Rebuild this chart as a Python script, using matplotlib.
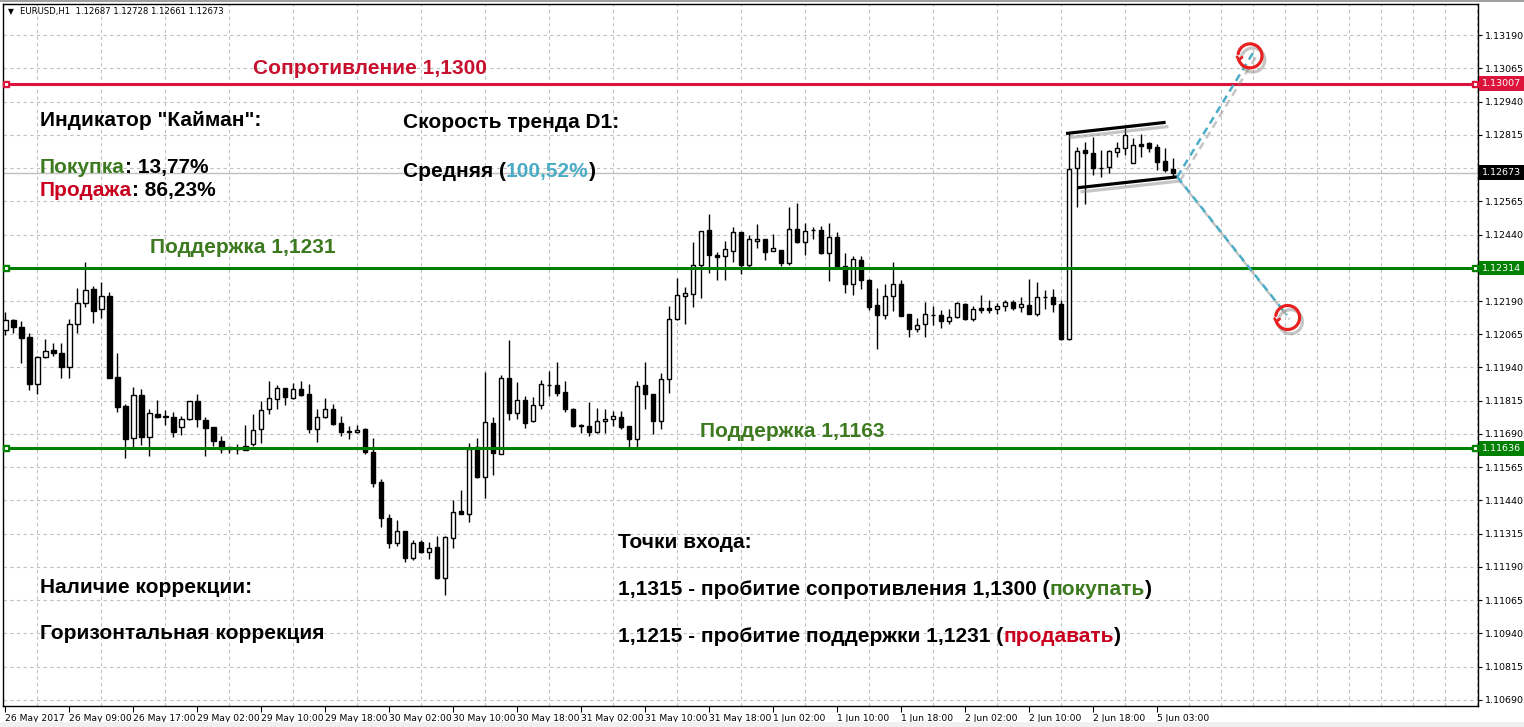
import numpy as np
import matplotlib
matplotlib.use('Agg')
import matplotlib.pyplot as plt
from matplotlib import patheffects as pe

plt.rcParams['font.family'] = ['Liberation Sans', 'DejaVu Sans']

############################# CHART DATA (EURUSD H1) ##############################
opens = [1.12081, 1.12119, 1.12091, 1.12054, 1.11877, 1.11981, 1.12006, 1.11994, 1.11941, 1.12103,
         1.12182, 1.12234, 1.12159, 1.12209, 1.11903, 1.11794, 1.11674, 1.11837, 1.11680, 1.11766,
         1.11759, 1.11753, 1.11715, 1.11746, 1.11815, 1.11743, 1.11715, 1.11664, 1.11640, 1.11633,
         1.11630, 1.11652, 1.11708, 1.11785, 1.11822, 1.11863, 1.11826, 1.11861, 1.11841, 1.11708,
         1.11753, 1.11785, 1.11730, 1.11702, 1.11697, 1.11708, 1.11624, 1.11509, 1.11373, 1.11279,
         1.11325, 1.11223, 1.11283, 1.11245, 1.11264, 1.11150, 1.11298, 1.11401, 1.11388, 1.11640,
         1.11530, 1.11730, 1.11614, 1.11899, 1.11768, 1.11817, 1.11737, 1.11798, 1.11873, 1.11874,
         1.11848, 1.11783, 1.11724, 1.11719, 1.11699, 1.11739, 1.11747, 1.11754, 1.11720, 1.11670,
         1.11874, 1.11842, 1.11740, 1.11896, 1.12121, 1.12209, 1.12216, 1.12327, 1.12457, 1.12362,
         1.12361, 1.12379, 1.12448, 1.12327, 1.12414, 1.12422, 1.12377, 1.12382, 1.12334, 1.12460,
         1.12411, 1.12457, 1.12457, 1.12369, 1.12430, 1.12322, 1.12253, 1.12344, 1.12269, 1.12174,
         1.12138, 1.12210, 1.12253, 1.12140, 1.12086, 1.12103, 1.12136, 1.12136, 1.12116, 1.12129,
         1.12179, 1.12121, 1.12163, 1.12163, 1.12161, 1.12173, 1.12185, 1.12166, 1.12174, 1.12143,
         1.12204, 1.12204, 1.12179, 1.12046, 1.12689, 1.12758, 1.12746, 1.12689, 1.12693, 1.12749,
         1.12764, 1.12708, 1.12781, 1.12783, 1.12769, 1.12717, 1.12687]
highs = [1.12150, 1.12123, 1.12115, 1.12069, 1.11984, 1.12046, 1.12031, 1.12031, 1.12121, 1.12238,
         1.12336, 1.12247, 1.12260, 1.12223, 1.11994, 1.11801, 1.11866, 1.11860, 1.11785, 1.11819,
         1.11781, 1.11774, 1.11756, 1.11815, 1.11839, 1.11752, 1.11715, 1.11684, 1.11640, 1.11653,
         1.11724, 1.11766, 1.11814, 1.11890, 1.11875, 1.11863, 1.11883, 1.11890, 1.11877, 1.11785,
         1.11824, 1.11801, 1.11759, 1.11720, 1.11724, 1.11714, 1.11674, 1.11521, 1.11388, 1.11367,
         1.11325, 1.11292, 1.11292, 1.11283, 1.11308, 1.11307, 1.11440, 1.11480, 1.11655, 1.11674,
         1.11922, 1.11753, 1.11912, 1.12043, 1.11886, 1.11831, 1.11828, 1.11893, 1.11928, 1.11961,
         1.11888, 1.11787, 1.11727, 1.11812, 1.11787, 1.11783, 1.11778, 1.11778, 1.11720, 1.11889,
         1.11960, 1.11842, 1.11918, 1.12171, 1.12276, 1.12241, 1.12412, 1.12455, 1.12516, 1.12376,
         1.12416, 1.12467, 1.12448, 1.12438, 1.12480, 1.12422, 1.12442, 1.12382, 1.12545, 1.12560,
         1.12485, 1.12470, 1.12472, 1.12485, 1.12450, 1.12372, 1.12359, 1.12359, 1.12273, 1.12240,
         1.12253, 1.12337, 1.12269, 1.12140, 1.12128, 1.12185, 1.12173, 1.12156, 1.12160, 1.12185,
         1.12184, 1.12171, 1.12213, 1.12194, 1.12184, 1.12194, 1.12194, 1.12204, 1.12273, 1.12260,
         1.12232, 1.12234, 1.12194, 1.12820, 1.12770, 1.12787, 1.12808, 1.12758, 1.12758, 1.12787,
         1.12839, 1.12802, 1.12817, 1.12787, 1.12779, 1.12764, 1.12728]
lows = [1.12063, 1.12069, 1.11956, 1.11856, 1.11841, 1.11977, 1.11984, 1.11902, 1.11902, 1.12071,
        1.12166, 1.12106, 1.12128, 1.11900, 1.11771, 1.11599, 1.11637, 1.11649, 1.11609, 1.11749,
        1.11722, 1.11677, 1.11687, 1.11741, 1.11718, 1.11609, 1.11643, 1.11618, 1.11618, 1.11615,
        1.11630, 1.11645, 1.11655, 1.11764, 1.11784, 1.11800, 1.11822, 1.11834, 1.11693, 1.11660,
        1.11749, 1.11722, 1.11684, 1.11672, 1.11695, 1.11614, 1.11492, 1.11342, 1.11263, 1.11267,
        1.11207, 1.11217, 1.11244, 1.11220, 1.11145, 1.11083, 1.11260, 1.11388, 1.11358, 1.11524,
        1.11451, 1.11534, 1.11614, 1.11743, 1.11748, 1.11712, 1.11734, 1.11783, 1.11831, 1.11833,
        1.11772, 1.11718, 1.11693, 1.11684, 1.11695, 1.11695, 1.11720, 1.11708, 1.11636, 1.11636,
        1.11785, 1.11690, 1.11708, 1.11843, 1.12119, 1.12104, 1.12166, 1.12203, 1.12297, 1.12269,
        1.12269, 1.12338, 1.12292, 1.12319, 1.12391, 1.12344, 1.12377, 1.12323, 1.12325, 1.12407,
        1.12363, 1.12423, 1.12367, 1.12267, 1.12313, 1.12222, 1.12213, 1.12234, 1.12156, 1.12010,
        1.12121, 1.12153, 1.12135, 1.12054, 1.12072, 1.12056, 1.12100, 1.12090, 1.12103, 1.12125,
        1.12119, 1.12113, 1.12146, 1.12146, 1.12141, 1.12153, 1.12156, 1.12150, 1.12140, 1.12135,
        1.12159, 1.12147, 1.12044, 1.12044, 1.12543, 1.12554, 1.12664, 1.12658, 1.12670, 1.12731,
        1.12739, 1.12708, 1.12731, 1.12752, 1.12683, 1.12677, 1.12661]
closes = [1.12119, 1.12091, 1.12050, 1.11877, 1.11981, 1.12002, 1.11994, 1.11941, 1.12103, 1.12182,
          1.12230, 1.12154, 1.12209, 1.11900, 1.11791, 1.11670, 1.11837, 1.11680, 1.11768, 1.11752,
          1.11753, 1.11699, 1.11746, 1.11815, 1.11746, 1.11714, 1.11662, 1.11633, 1.11635, 1.11633,
          1.11643, 1.11704, 1.11781, 1.11826, 1.11863, 1.11829, 1.11861, 1.11837, 1.11708, 1.11753,
          1.11785, 1.11727, 1.11699, 1.11697, 1.11705, 1.11624, 1.11507, 1.11373, 1.11279, 1.11325,
          1.11223, 1.11279, 1.11245, 1.11263, 1.11150, 1.11302, 1.11398, 1.11388, 1.11632, 1.11530,
          1.11734, 1.11618, 1.11899, 1.11768, 1.11817, 1.11733, 1.11798, 1.11877, 1.11874, 1.11843,
          1.11783, 1.11720, 1.11720, 1.11699, 1.11739, 1.11747, 1.11757, 1.11718, 1.11670, 1.11872,
          1.11839, 1.11740, 1.11896, 1.12121, 1.12211, 1.12219, 1.12327, 1.12452, 1.12364, 1.12357,
          1.12384, 1.12448, 1.12325, 1.12422, 1.12422, 1.12376, 1.12388, 1.12334, 1.12460, 1.12413,
          1.12455, 1.12457, 1.12369, 1.12430, 1.12317, 1.12254, 1.12347, 1.12269, 1.12169, 1.12138,
          1.12208, 1.12253, 1.12135, 1.12086, 1.12099, 1.12140, 1.12136, 1.12113, 1.12129, 1.12181,
          1.12121, 1.12159, 1.12158, 1.12158, 1.12170, 1.12185, 1.12165, 1.12178, 1.12143, 1.12204,
          1.12205, 1.12179, 1.12046, 1.12685, 1.12754, 1.12746, 1.12689, 1.12689, 1.12754, 1.12764,
          1.12814, 1.12777, 1.12774, 1.12764, 1.12714, 1.12683, 1.12673]

time_ticks = [0, 8, 16, 24, 32, 40, 48, 56, 64, 72, 80, 88, 96, 104, 112, 120, 128, 136, 144]
time_labels = ['26 May 2017', '26 May 09:00', '26 May 17:00', '29 May 02:00', '29 May 10:00',
               '29 May 18:00', '30 May 02:00', '30 May 10:00', '30 May 18:00', '31 May 02:00',
               '31 May 10:00', '31 May 18:00', '1 Jun 02:00', '1 Jun 10:00', '1 Jun 18:00',
               '2 Jun 02:00', '2 Jun 10:00', '2 Jun 18:00', '5 Jun 03:00']
price_ticks = [1.10690 + 0.00125 * k for k in range(21)]

levels = [1.13007, 1.12314, 1.11636]
level_colors = ['#dc143c', '#008000', '#008000']

# flag channel drawn over the last candles, and the two projected paths
channel_x = [[132.6, 145.05], [134.05, 146.5]]
channel_y = [[1.12820, 1.12862], [1.12616, 1.12657]]
path_start = (146.5, 1.12657)
path_ends = [(156.2, 1.13134), (160.2, 1.12137)]
target_marks = [(155.6, 1.13112), (160.3, 1.12128)]

GREEN_TXT = '#3d7a1f'
RED_TXT = '#c8001e'
BLUE_TXT = '#4bacc6'

############################# FIGURE AND AXES #####################################
W, H = 1524, 727
fig = plt.figure(figsize=(W / 100, H / 100), dpi=100)
fig.patch.set_facecolor('white')
ax = fig.add_axes([3 / W, 1 - 706 / H, (1478 - 3) / W, (706 - 4) / H])
ax.set_xlim(-0.29, 184.1)
ax.set_ylim(1.10667, 1.13307)

for sp in ax.spines.values():
    sp.set_color('black')
    sp.set_linewidth(1)

ax.yaxis.tick_right()
ax.set_yticks(price_ticks)
ax.set_yticklabels(['{:.5f}'.format(p) for p in price_ticks], family='DejaVu Sans')
ax.set_xticks(time_ticks)
ax.set_xticklabels(time_labels, ha='left', family='DejaVu Sans')
ax.set_xticks(np.arange(4, 185, 4), minor=True)
ax.tick_params(axis='y', which='major', direction='out', length=3, width=0.8,
               labelsize=6.8, pad=2, right=True, left=False)
ax.tick_params(axis='x', which='major', direction='out', length=4, width=0.8,
               labelsize=6.6, pad=2)
ax.tick_params(axis='x', which='minor', length=0)
ax.xaxis.grid(True, which='minor', color='#c0c0c0', lw=0.8, ls=(0, (3, 3)))
ax.yaxis.grid(True, which='major', color='#c0c0c0', lw=0.8, ls=(0, (3, 3)))
ax.set_axisbelow(True)

############################# CANDLES ##############################################
o = np.array(opens)
h = np.array(highs)
l = np.array(lows)
c = np.array(closes)
idx = np.arange(len(o))
up = c >= o
body_lo = np.minimum(o, c)
body_h = np.abs(c - o)

ax.vlines(idx, l, h, color='black', lw=1, zorder=3)
ax.bar(idx[up], body_h[up], bottom=body_lo[up], width=0.55, facecolor='white',
       edgecolor='black', lw=1, zorder=4)
ax.bar(idx[~up], body_h[~up], bottom=body_lo[~up], width=0.55, facecolor='black',
       edgecolor='black', lw=1, zorder=4)

# current bid line
ax.axhline(closes[-1], color='#c0c0c0', lw=1, zorder=1)

############################# HORIZONTAL LEVELS ###################################
ytr = ax.get_yaxis_transform()
for lvl, col in zip(levels, level_colors):
    ax.axhline(lvl, color=col, lw=2.2, zorder=5)
    ax.plot([0.1, 183.7], [lvl, lvl], ls='none', marker='s', ms=5, mfc=col, mec=col, zorder=6,
            clip_on=False)
    ax.plot([0.1, 183.7], [lvl, lvl], ls='none', marker='s', ms=1.2, mfc='white', mec='white',
            zorder=7, clip_on=False)
    ax.text(1.0027, lvl, '{:.5f}'.format(lvl), transform=ytr, color='white', fontsize=6.8,
            family='DejaVu Sans', va='center', ha='left', zorder=10, clip_on=False,
            bbox=dict(boxstyle='square,pad=0.3', fc=col, ec='none'))

ax.text(1.0027, closes[-1], '{:.5f}'.format(closes[-1]), transform=ytr, color='white',
        fontsize=6.8, family='DejaVu Sans', va='center', ha='left', zorder=10, clip_on=False,
        bbox=dict(boxstyle='square,pad=0.3', fc='black', ec='none'))

############################# CHANNEL AND PROJECTIONS ##############################
shadow = [pe.SimpleLineShadow(offset=(2, -3), shadow_color='#808080', alpha=0.45), pe.Normal()]
for xs, ys in zip(channel_x, channel_y):
    ax.plot(xs, ys, color='black', lw=2.3, solid_capstyle='butt', zorder=8, path_effects=shadow)

for ex, ey in path_ends:
    ax.plot([path_start[0], ex], [path_start[1], ey], color=BLUE_TXT, lw=1.8,
            ls=(0, (3, 2)), zorder=8, path_effects=shadow)

# hand-drawn red rings around the targets (radius 12 px, 8 px per bar)
px_x = 1 / 8.0
px_y = 0.0000376
t = np.radians(np.linspace(200, 530, 60))
for mx, my in target_marks:
    ax.plot(mx + 12 * px_x * np.cos(t), my + 12 * px_y * np.sin(t), color='#e82020', lw=2.3,
            zorder=9, solid_capstyle='round', path_effects=shadow)
    ax.plot([mx - 13 * px_x, mx - 11.3 * px_x, mx - 8 * px_x],
            [my - 1 * px_y, my - 4 * px_y, my - 1.5 * px_y], color='#e82020', lw=2,
            zorder=9, solid_capstyle='round')

############################# TEXT ANNOTATIONS ####################################
renderer = fig.canvas.get_renderer()


def label(x, y, parts, size=15):
    # pixel position of the baseline, parts drawn one after another
    for s, col in parts:
        txt = fig.text(x / W, 1 - y / H, s, color=col, fontsize=size, fontweight='bold',
                       va='baseline', ha='left')
        x += txt.get_window_extent(renderer).width


label(253, 74, [('Сопротивление 1,1300', '#c8102e')])
label(40, 126, [('Индикатор "Кайман":', 'black')])
label(40, 173, [('Покупка', GREEN_TXT), (': 13,77%', 'black')])
label(40, 196, [('Продажа', RED_TXT), (': 86,23%', 'black')])
label(403, 128, [('Скорость тренда D1:', 'black')])
label(403, 177, [('Средняя (', 'black'), ('100,52%', BLUE_TXT), (')', 'black')])
label(150, 253, [('Поддержка 1,1231', GREEN_TXT)])
label(700, 437, [('Поддержка 1,1163', GREEN_TXT)])
label(618, 548, [('Точки входа:', 'black')])
label(618, 595, [('1,1315 - пробитие сопротивления 1,1300 (', 'black'), ('покупать', GREEN_TXT),
                 (')', 'black')])
label(618, 642, [('1,1215 - пробитие поддержки 1,1231 (', 'black'), ('продавать', RED_TXT),
                 (')', 'black')])
label(40, 593, [('Наличие коррекции:', 'black')])
label(40, 639, [('Горизонтальная коррекция', 'black')])

# header of the MT4 window
fig.text(8 / W, 1 - 14 / H, '▼', fontsize=5.5, family='DejaVu Sans', va='baseline')
fig.text(20 / W, 1 - 14 / H, 'EURUSD,H1  1.12687 1.12728 1.12661 1.12673', fontsize=6.1,
         family='DejaVu Sans', va='baseline')

fig.patches.append(plt.Rectangle((0, 1 - 2 / H), 1, 2 / H, transform=fig.transFigure,
                                 fc='#a0a0a0', ec='none'))
fig.patches.append(plt.Rectangle((0, 0), 1, 5 / H, transform=fig.transFigure,
                                 fc='#f0f0f0', ec='none'))

fig.savefig('out.png', dpi=100)
